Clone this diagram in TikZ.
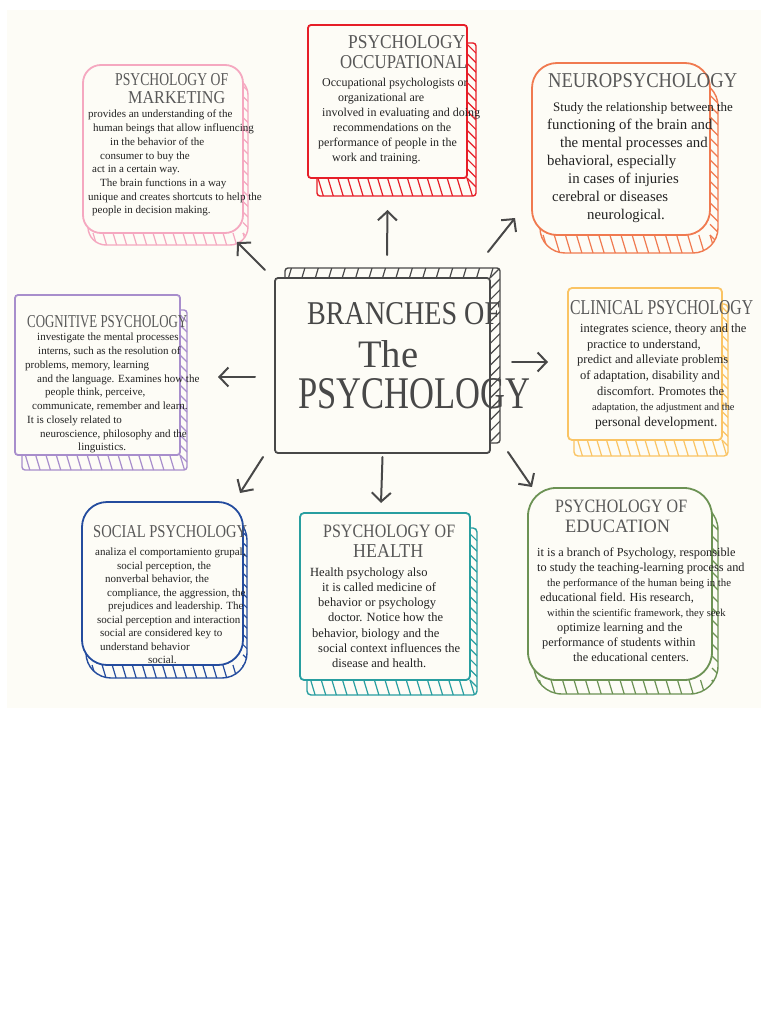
\documentclass[tikz,border=0pt]{standalone}
\usepackage{fontspec}
\setmainfont{Liberation Serif}
\usepackage{graphicx}
\usetikzlibrary{arrows.meta,calc}
\definecolor{paper}{RGB}{253,252,246}
\definecolor{mktpink}{RGB}{245,168,192}
\definecolor{occred}{RGB}{230,30,40}
\definecolor{neuroorange}{RGB}{240,122,80}
\definecolor{cogpurple}{RGB}{168,142,204}
\definecolor{clinyellow}{RGB}{250,196,100}
\definecolor{socblue}{RGB}{36,76,158}
\definecolor{hlthteal}{RGB}{40,158,160}
\definecolor{edugreen}{RGB}{108,146,84}
\definecolor{ink}{RGB}{72,72,72}
\definecolor{headgray}{RGB}{88,88,88}
\definecolor{bodyink}{RGB}{34,34,34}
\newcommand{\hd}[3]{\resizebox{#1pt}{#2pt}{#3}}
\newcommand{\fs}[2]{\fontsize{#1}{#2}\selectfont}
% node, colour, corner radius, depth x, depth y
\newcommand{\sketchbox}[5]{%
  \draw[#2, line width=1.4pt, rounded corners=#3]
    ([shift={(#4,#5)}]#1.north west) rectangle ([shift={(#4,#5)}]#1.south east);
  \begin{scope}
    \clip[rounded corners=#3]
      ([shift={(#4,#5)}]#1.north west) rectangle ([shift={(#4,#5)}]#1.south east);
    \foreach \t in {0,0.0625,...,1.0}{
      \draw[#2, hatch] ($(#1.south west)!\t!(#1.south east)$) -- ++({0.3*abs(#5)},{#5});
      \draw[#2, hatch] ($(#1.north west)!\t!(#1.north east)$) -- ++({0.3*abs(#5)},{#5});
      \draw[#2, hatch] ($(#1.north east)!\t!(#1.south east)$) -- ++({#4},{#4*(#5)/abs(#5)});
    }
  \end{scope}
  \draw[#2, line width=1.8pt, fill=paper, rounded corners=#3] (#1.north west) rectangle (#1.south east);
}
\tikzset{
  face/.style={inner sep=0pt, outer sep=0pt},
  hatch/.style={line width=1.2pt},
  hd/.style={anchor=north west, inner sep=0pt, align=left, text=headgray},
  bd/.style={anchor=north west, inner sep=0pt, align=left, text=bodyink},
  arr/.style={-{Straight Barb[length=9pt,width=19pt]}, line width=2pt, ink, line cap=round},
}

\begin{document}
\begin{tikzpicture}[x=1pt, y=-1pt]
  \useasboundingbox (0,0) rectangle (768,1024);
  \fill[white] (0,0) rectangle (768,1024);
  \fill[paper] (7,10) rectangle (761,708);

  % faces of the boxes
  \node[face, minimum width=215pt, minimum height=175pt] (branches) at (382.5,365.5) {};
  \node[face, minimum width=160pt, minimum height=168pt] (mkt) at (163,149) {};
  \node[face, minimum width=159pt, minimum height=153pt] (occ) at (387.5,101.5) {};
  \node[face, minimum width=178pt, minimum height=172pt] (neuro) at (621,149) {};
  \node[face, minimum width=165pt, minimum height=160pt] (cog) at (97.5,375) {};
  \node[face, minimum width=154pt, minimum height=152pt] (clin) at (645,364) {};
  \node[face, minimum width=161pt, minimum height=163pt] (soc) at (162.5,583.5) {};
  \node[face, minimum width=170pt, minimum height=167pt] (hlth) at (385,596.5) {};
  \node[face, minimum width=184pt, minimum height=192pt] (edu) at (620,584) {};

  \sketchbox{branches}{ink}{3}{10}{-10}
  \sketchbox{mkt}{mktpink}{18}{5}{12}
  \sketchbox{occ}{occred}{3}{9}{18}
  \sketchbox{neuro}{neuroorange}{25}{8}{18}
  \sketchbox{cog}{cogpurple}{3}{7}{15}
  \sketchbox{clin}{clinyellow}{4}{6}{16}
  \sketchbox{soc}{socblue}{25}{4}{13}
  \sketchbox{hlth}{hlthteal}{4}{7}{15}
  \sketchbox{edu}{edugreen}{28}{6}{14}

  % main title
  \node[hd, text=ink, font=\fs{24}{43}] (branches-h) at (298,302)
    {\hspace*{9pt}\hd{193}{22}{BRANCHES OF}\\
     \hspace*{60pt}\hd{60}{27}{The}\\[-2pt]
     \hd{232}{30}{PSYCHOLOGY}};

  % marketing
  \node[hd, font=\fs{12}{18}] (mkt-h) at (115,73)
    {\hd{113}{12}{PSYCHOLOGY OF}\\ \hspace*{13pt}\hd{97}{12}{MARKETING}};
  \node[bd, font=\fs{11}{13.7}] (mkt-b) at (88,110)
    {provides an understanding of the\\
     \hspace*{5pt}human beings that allow influencing\\
     \hspace*{22pt}in the behavior of the\\
     \hspace*{12pt}consumer to buy the\\
     \hspace*{4pt}act in a certain way.\\
     \hspace*{12pt}The brain functions in a way\\
     unique and creates shortcuts to help the\\
     \hspace*{4pt}people in decision making.};

  % occupational
  \node[hd, font=\fs{12}{20}] (occ-h) at (340,35)
    {\hspace*{8pt}\hd{117}{13}{PSYCHOLOGY}\\ \hd{127}{13}{OCCUPATIONAL}};
  \node[bd, font=\fs{12}{15}] (occ-b) at (318,78)
    {\hspace*{4pt}Occupational psychologists or\\
     \hspace*{20pt}organizational are\\
     \hspace*{4pt}involved in evaluating and doing\\
     \hspace*{15pt}recommendations on the\\
     performance of people in the\\
     \hspace*{14pt}work and training.};

  % neuropsychology
  \node[hd, font=\fs{14}{18}] (neuro-h) at (548,73)
    {\hd{189}{14}{NEUROPSYCHOLOGY}};
  \node[bd, font=\fs{14.8}{18}] (neuro-b) at (547,102.5)
    {\hspace*{6pt}{\fs{13}{18}Study the relationship between the}\\
     functioning of the brain and\\
     \hspace*{13pt}the mental processes and\\
     behavioral, especially\\
     \hspace*{21pt}in cases of injuries\\
     \hspace*{5pt}cerebral or diseases\\
     \hspace*{40pt}neurological.};

  % cognitive
  \node[hd, font=\fs{12}{18}] (cog-h) at (27,315)
    {\hd{160}{12}{COGNITIVE PSYCHOLOGY}};
  \node[bd, font=\fs{11}{13.75}] (cog-b) at (25,333)
    {\hspace*{12pt}investigate the mental processes\\
     \hspace*{13pt}interns, such as the resolution of\\
     problems, memory, learning\\
     \hspace*{12pt}and the language. Examines how the\\
     \hspace*{20pt}people think, perceive,\\
     \hspace*{7pt}communicate, remember and learn.\\
     \hspace*{2pt}It is closely related to\\
     \hspace*{15pt}neuroscience, philosophy and the\\
     \hspace*{53pt}linguistics.};

  % clinical
  \node[hd, font=\fs{14}{18}] (clin-h) at (570,300)
    {\hd{183}{14}{CLINICAL PSYCHOLOGY}};
  \node[bd, font=\fs{12.5}{15.67}] (clin-b) at (577,323.6)
    {\hspace*{3pt}integrates science, theory and the\\
     \hspace*{10pt}practice to understand,\\
     predict and alleviate problems\\
     \hspace*{3pt}of adaptation, disability and\\
     \hspace*{20pt}discomfort. Promotes the\\
     \hspace*{15pt}{\fs{10.4}{15.67}adaptation, the adjustment and the}\\
     \hspace*{18pt}{\fs{13.5}{15.67}personal development.}};

  % social
  \node[hd, font=\fs{12}{18}] (soc-h) at (93,525)
    {\hd{154}{12}{SOCIAL PSYCHOLOGY}};
  \node[bd, font=\fs{11}{13.5}] (soc-b) at (95,548)
    {analiza el comportamiento grupal,\\
     \hspace*{22pt}social perception, the\\
     \hspace*{10pt}nonverbal behavior, the\\
     \hspace*{12pt}compliance, the aggression, the\\
     \hspace*{13pt}prejudices and leadership. The\\
     \hspace*{2pt}social perception and interaction\\
     \hspace*{5pt}social are considered key to\\
     \hspace*{5pt}understand behavior\\
     \hspace*{53pt}social.};

  % health
  \node[hd, font=\fs{12}{20}] (hlth-h) at (323,525)
    {\hd{132}{12.5}{PSYCHOLOGY OF}\\ \hspace*{30pt}\hd{70}{13}{HEALTH}};
  \node[bd, font=\fs{12.5}{15.17}] (hlth-b) at (310,567.6)
    {Health psychology also\\
     \hspace*{12pt}it is called medicine of\\
     \hspace*{8pt}behavior or psychology\\
     \hspace*{18pt}doctor. Notice how the\\
     \hspace*{2pt}behavior, biology and the\\
     \hspace*{8pt}social context influences the\\
     \hspace*{22pt}disease and health.};

  % education
  \node[hd, font=\fs{12}{20}] (edu-h) at (555,500)
    {\hd{132}{12.5}{PSYCHOLOGY OF}\\ \hspace*{10pt}\hd{105}{12.5}{EDUCATION}};
  \node[bd, font=\fs{12.3}{15}] (edu-b) at (537,547.7)
    {it is a branch of Psychology, responsible\\
     to study the teaching-learning process and\\
     \hspace*{10pt}{\fs{10.8}{15}the performance of the human being in the}\\
     \hspace*{3pt}educational field. His research,\\
     \hspace*{10pt}{\fs{10.6}{15}within the scientific framework, they seek}\\
     \hspace*{20pt}optimize learning and the\\
     \hspace*{5pt}performance of students within\\
     \hspace*{36pt}the educational centers.};

  % arrows from the centre
  \draw[arr] ([shift={(4.5,-23)}]branches.north) -- ([shift={(0,32)}]occ.south);
  \draw[arr] ([shift={(-2,-26)}]branches.north east) -- ([shift={(-17,-17)}]neuro.south west);
  \draw[arr] ([shift={(-10,-8)}]branches.north west) -- ([shift={(-6,9)}]mkt.south east);
  \draw[arr] ([shift={(-20,11.5)}]branches.west) -- ([shift={(38,2)}]cog.east);
  \draw[arr] ([shift={(22,-3.5)}]branches.east) -- ([shift={(-20,-2)}]clin.west);
  \draw[arr] ([shift={(-12,4)}]branches.south west) -- ([shift={(-3,-9)}]soc.north east);
  \draw[arr] ([shift={(0,4)}]branches.south) -- ([shift={(-4,-10)}]hlth.north);
  \draw[arr] ([shift={(18,-1)}]branches.south east) -- ([shift={(4,-1)}]edu.north west);
\end{tikzpicture}
\end{document}
